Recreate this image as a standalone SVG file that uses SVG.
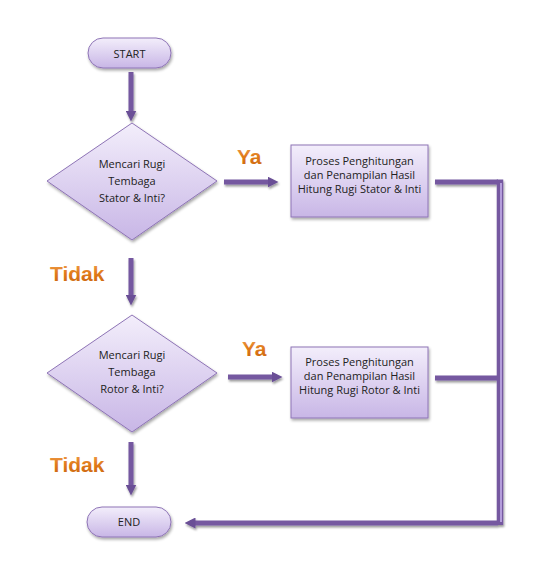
<svg xmlns="http://www.w3.org/2000/svg" width="547" height="567" viewBox="0 0 547 567">
<defs>
<linearGradient id="fillG" x1="0" y1="0" x2="0" y2="1">
<stop offset="0" stop-color="#f3eefb"/>
<stop offset="1" stop-color="#c8b6e6"/>
</linearGradient>
<linearGradient id="orG" x1="0" y1="0" x2="0" y2="1">
<stop offset="0" stop-color="#f0a050"/>
<stop offset="0.5" stop-color="#e07a1a"/>
<stop offset="1" stop-color="#c86410"/>
</linearGradient>
<filter id="sh" x="-20%" y="-20%" width="140%" height="140%">
<feGaussianBlur in="SourceAlpha" stdDeviation="1.5"/>
<feOffset dx="1" dy="2" result="b"/>
<feComponentTransfer><feFuncA type="linear" slope="0.35"/></feComponentTransfer>
<feMerge><feMergeNode/><feMergeNode in="SourceGraphic"/></feMerge>
</filter>
<filter id="shc" filterUnits="userSpaceOnUse" x="0" y="0" width="547" height="567">
<feGaussianBlur in="SourceAlpha" stdDeviation="1"/>
<feOffset dx="1" dy="1.5" result="b"/>
<feComponentTransfer><feFuncA type="linear" slope="0.4"/></feComponentTransfer>
<feMerge><feMergeNode/><feMergeNode in="SourceGraphic"/></feMerge>
</filter>
<marker id="ah" viewBox="0 0 10 10" refX="5" refY="5" markerWidth="2.2" markerHeight="2.2" orient="auto" markerUnits="strokeWidth">
<path d="M0,0 L10,5 L0,10 z" fill="#6b4f96"/>
</marker>
</defs>
<style>
.node{fill:url(#fillG);stroke:#8e74b6;stroke-width:1;filter:url(#sh)}
.t{font-family:"Open Sans","Liberation Sans",sans-serif;font-size:11px;fill:#222;text-anchor:middle}
.lbl{font-family:"Liberation Sans",Arial,sans-serif;font-size:21px;font-weight:bold;fill:url(#orG)}
.c{stroke:#7458a0;stroke-width:5;fill:none}
.ca{stroke:#7458a0;stroke-width:5;fill:none;marker-end:url(#ah)}
.cv{stroke:#7458a0;stroke-width:6.5;fill:none}
.ct{stroke:#b49ddb;stroke-width:2;fill:none}
</style>
<g id="connectors" filter="url(#shc)">
<line class="ca" x1="131" y1="72" x2="131" y2="116"/>
<line class="ca" x1="131" y1="258" x2="131" y2="300"/>
<line class="ca" x1="131" y1="442" x2="131" y2="490"/>
<line class="ca" x1="224" y1="182" x2="273" y2="182"/>
<line class="ca" x1="228" y1="377" x2="277" y2="377"/>
<line class="c" x1="435" y1="182" x2="498" y2="182"/>
<line class="cv" x1="500" y1="179.5" x2="500" y2="525"/>
<line class="c" x1="435" y1="378" x2="498" y2="378"/>
<line class="ca" x1="498" y1="523" x2="190" y2="523"/>
<line class="ct" x1="501" y1="183" x2="501" y2="522"/>
</g>
<g id="start">
<rect class="node" x="88" y="38" width="83" height="30" rx="15"/>
<text class="t" x="129.5" y="57.5">START</text>
</g>
<g id="decision1">
<polygon class="node" points="132,123 217,181 132,240 47,181"/>
<text class="t" x="132" y="168">Mencari Rugi</text>
<text class="t" x="132" y="185">Tembaga</text>
<text class="t" x="132" y="202">Stator &amp; Inti?</text>
</g>
<g id="process1">
<rect class="node" x="291" y="145" width="137" height="72"/>
<text class="t" x="359.5" y="165">Proses Penghitungan</text>
<text class="t" x="359.5" y="179">dan Penampilan Hasil</text>
<text class="t" x="359.5" y="193">Hitung Rugi Stator &amp; Inti</text>
</g>
<g id="decision2">
<polygon class="node" points="132,315 217,373 132,432 47,373"/>
<text class="t" x="132" y="359">Mencari Rugi</text>
<text class="t" x="132" y="376">Tembaga</text>
<text class="t" x="132" y="393">Rotor &amp; Inti?</text>
</g>
<g id="process2">
<rect class="node" x="291" y="347" width="137" height="71"/>
<text class="t" x="359.5" y="366">Proses Penghitungan</text>
<text class="t" x="359.5" y="380">dan Penampilan Hasil</text>
<text class="t" x="359.5" y="394">Hitung Rugi Rotor &amp; Inti</text>
</g>
<g id="end">
<rect class="node" x="87" y="507" width="84" height="30" rx="15"/>
<text class="t" x="129" y="526">END</text>
</g>
<g id="labels">
<text class="lbl" x="237" y="164">Ya</text>
<text class="lbl" x="242" y="356">Ya</text>
<text class="lbl" x="50" y="281">Tidak</text>
<text class="lbl" x="50" y="472">Tidak</text>
</g>
</svg>
